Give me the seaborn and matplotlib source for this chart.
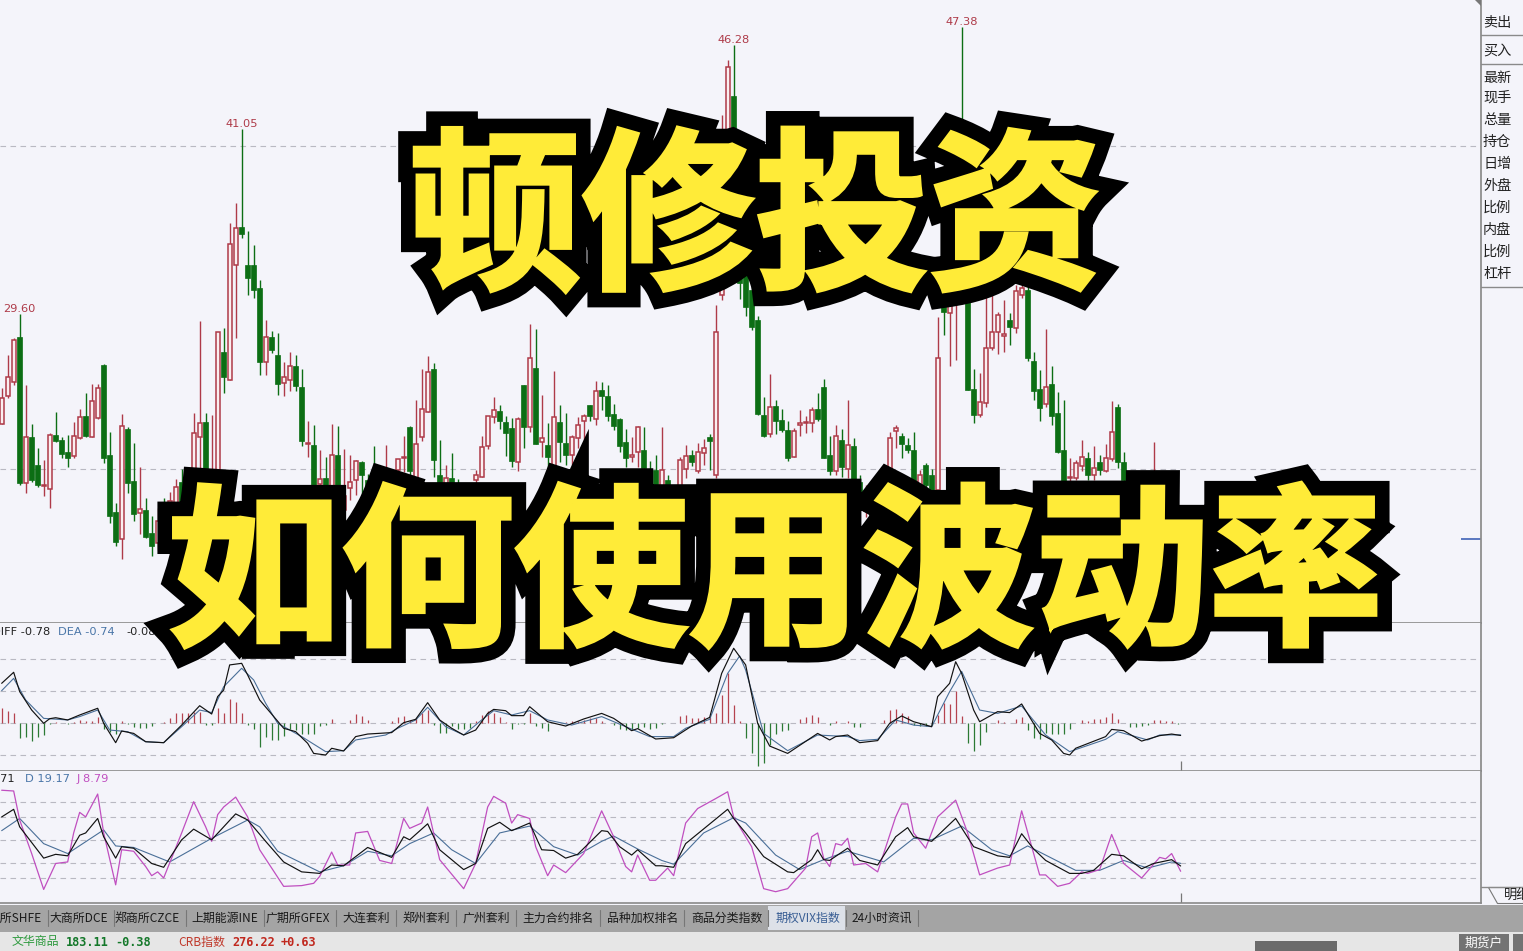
import matplotlib
matplotlib.use("Agg")
import matplotlib.pyplot as plt
import matplotlib.patheffects as pe
import numpy as np
import seaborn as sns
from matplotlib.patches import Rectangle, Polygon

highs = [25.0,27.05,28.1,29.6,25.2,22.8,21.3,20.55,22.2,23.55,
    22.0,22.1,22.9,23.7,24.7,25.25,25.25,26.5,22.3,17.9,
    23.4,22.6,21.6,20.15,18.2,17.1,17.6,18.2,18.6,19.4,
    20.0,20.1,23.45,29.15,23.45,23.35,28.5,28.7,35.2,36.45,
    41.05,34.75,33.85,31.7,29.2,28.55,28.4,26.65,27.25,27.05,
    26.2,23.0,22.7,21.2,20.75,22.8,22.65,21.25,20.85,20.55,
    20.5,19.7,21.4,18.0,21.5,20.0,20.6,22.05,22.65,24.3,
    26.2,27.0,26.55,21.8,20.25,21.0,19.4,18.6,19.0,19.95,
    22.05,23.3,24.45,23.95,23.25,23.15,23.2,25.2,29.0,28.65,
    24.6,22.85,26.05,23.95,23.45,22.1,23.2,23.4,23.95,25.45,
    25.4,25.2,24.05,23.15,22.45,22.0,22.65,22.6,20.5,20.85,
    22.6,19.65,19.0,20.75,21.5,21.15,21.6,21.85,22.15,30.15,
    41.9,45.3,46.28,38.0,33.5,31.4,29.5,24.45,25.85,24.3,
    23.7,23.0,22.55,23.65,23.3,23.85,24.7,25.55,22.05,22.75,
    22.5,24.3,21.9,19.6,19.0,18.6,18.2,19.4,22.3,22.7,
    22.2,21.9,22.3,19.95,20.35,20.0,29.4,33.6,37.9,41.0,
    47.38,36.65,26.2,25.95,31.7,30.8,29.75,30.45,29.65,31.4,
    31.7,31.4,27.25,26.15,28.65,26.4,24.75,24.3,20.65,20.55,
    21.8,21.05,21.4,20.85,21.55,24.2,24.05,21.05,19.4,18.6,
    18.4,19.0,21.65,19.0,18.0,17.0,16.4]
lows = [22.8,24.4,25.2,19.0,18.5,19.2,18.9,18.35,17.6,21.65,
    20.65,20.15,20.65,21.85,22.0,21.95,23.1,20.35,16.65,15.2,
    14.4,18.5,16.8,16.0,15.7,14.6,15.0,15.2,15.8,17.2,
    17.4,17.6,18.7,19.3,18.7,18.7,19.65,24.7,25.5,28.1,
    34.3,30.75,30.6,25.8,25.8,27.2,24.6,24.5,24.8,24.85,
    21.45,20.75,18.1,18.4,18.25,18.5,17.3,16.85,18.1,18.4,
    18.1,17.0,16.6,16.0,16.8,17.2,19.3,19.8,19.45,19.3,
    21.7,23.5,19.5,18.1,18.1,17.8,17.2,16.6,17.2,19.0,
    19.5,21.25,22.85,22.45,20.8,20.15,19.85,21.3,22.3,21.55,
    20.75,19.95,19.5,20.45,20.25,20.25,21.3,21.7,22.95,22.7,
    23.65,23.0,22.4,21.05,20.15,20.45,20.15,19.75,18.7,18.4,
    18.4,18.4,17.4,18.4,19.45,20.2,19.75,20.25,19.95,19.45,
    30.45,33.0,31.7,30.5,29.5,28.6,23.35,21.95,22.0,22.15,
    22.3,20.5,20.75,22.05,22.25,22.3,23.0,20.65,19.65,19.6,
    19.5,19.45,18.7,17.6,17.0,16.6,16.4,17.2,19.3,21.3,
    20.7,21.0,18.7,18.4,18.7,17.8,18.4,28.3,26.35,26.75,
    31.1,24.9,22.85,23.2,23.85,27.35,27.1,27.25,27.7,28.4,
    30.6,26.7,24.25,22.95,23.85,22.7,21.0,18.7,18.7,19.3,
    19.85,19.3,19.3,19.65,19.8,20.5,20.05,19.0,17.6,16.8,
    16.8,17.4,18.1,17.2,16.2,15.4,15.2]
opens = [22.8,24.5,25.4,28.2,19.15,22.0,20.25,18.95,18.75,22.1,
    21.8,21.05,20.8,21.9,23.3,22.0,23.15,26.45,20.85,17.35,
    15.65,22.5,19.25,17.3,17.45,16.05,15.4,17.4,16.2,17.6,
    19.2,18.1,19.75,22.0,22.9,19.65,19.65,27.25,25.5,32.6,
    35.0,32.65,32.65,31.2,26.65,28.2,27.05,25.3,25.5,26.35,
    25.1,21.55,21.5,19.05,19.45,18.65,20.85,17.45,18.85,19.3,
    20.45,19.3,18.4,16.4,17.2,18.9,19.95,20.65,22.6,19.3,
    22.0,23.55,26.2,19.65,18.4,19.45,19.0,17.0,17.6,19.3,
    19.5,21.45,23.2,23.6,22.9,22.55,20.4,25.2,22.6,26.25,
    21.65,21.5,19.95,22.9,21.6,20.85,21.9,23.0,23.95,23.1,
    24.9,24.5,23.4,23.1,21.65,20.75,21.05,21.2,19.95,19.95,
    18.7,19.3,17.8,18.7,20.0,20.85,19.9,21.0,21.95,19.65,
    30.75,34.2,43.1,36.5,33.0,31.1,29.25,23.35,22.15,23.9,
    23.05,22.4,20.75,22.75,22.85,22.85,23.7,25.05,20.85,19.85,
    21.8,20.0,21.4,19.2,17.4,18.2,17.8,17.6,19.95,22.35,
    22.05,21.5,21.15,18.7,20.25,19.6,18.7,32.3,29.65,30.45,
    41.3,34.8,24.95,23.35,24.1,27.5,28.45,28.25,29.25,28.7,
    30.8,31.1,26.7,24.95,24.0,25.25,23.45,21.2,19.45,19.45,
    20.2,20.65,19.65,20.4,19.9,20.6,23.85,20.4,19.0,18.2,
    17.2,17.8,18.4,18.6,17.6,16.6,16.0]
closes = [24.4,25.7,28.0,19.1,22.0,19.3,19.0,19.0,22.1,21.75,
    20.95,20.65,22.05,23.2,22.05,24.2,25.0,20.65,17.1,15.5,
    22.65,19.15,17.2,17.5,15.8,15.25,16.8,15.9,18.0,18.9,
    17.8,19.6,22.2,22.85,19.95,19.7,28.45,25.7,33.95,34.9,
    34.55,31.85,31.1,26.65,28.2,27.35,25.25,25.7,26.4,25.15,
    21.75,21.6,18.9,19.4,18.75,20.85,17.4,18.3,19.2,20.5,
    19.65,17.6,17.2,17.4,18.6,17.8,20.6,20.75,19.9,21.55,
    23.7,26.0,20.55,18.7,19.45,18.7,17.6,18.0,18.5,19.65,
    21.35,23.25,23.65,22.95,22.25,20.5,23.1,22.6,26.85,21.55,
    21.9,20.75,23.2,21.65,20.85,21.95,22.7,23.3,23.25,24.85,
    24.5,23.3,22.65,21.4,20.65,20.85,22.6,20.05,19.0,18.8,
    19.95,19.0,18.6,20.55,20.8,20.45,21.05,21.3,21.75,28.45,
    41.0,44.9,34.2,31.5,30.0,28.8,23.4,22.05,23.85,22.95,
    22.4,20.7,22.35,22.85,22.9,23.65,23.1,20.7,19.9,22.05,
    20.15,21.5,19.3,18.0,18.4,17.0,16.8,18.8,21.9,22.55,
    21.55,21.15,19.0,19.6,19.0,18.2,26.9,29.7,35.4,38.5,
    32.3,24.9,23.35,24.15,27.5,28.45,29.55,28.35,28.8,31.05,
    31.2,26.9,24.85,23.8,25.05,23.3,21.05,19.0,19.5,20.35,
    20.75,19.6,20.05,19.95,20.65,22.3,20.4,19.3,18.0,17.2,
    17.9,18.6,19.3,17.6,16.6,15.9,15.66]

macd_hist = [.92,.75,.6,-.96,-.9,-1.15,-.9,-.75,-.05,.05,
    .03,-.05,.05,.2,.1,.1,.35,-.4,-.55,-.7,
    .12,-.05,-.25,-.3,-.3,-.2,-.02,.05,.3,.6,
    .6,.6,.7,.7,-.1,-.15,.95,.6,1.5,1.3,
    .65,-.1,-.4,-1.5,-.9,-1.05,-1.05,-.8,-.4,-.45,
    -.7,-.7,-.7,-.2,-.15,.25,.02,.03,.2,.55,
    .45,.2,.03,.03,.03,.1,.4,.45,.2,.3,
    .6,.8,-.1,-.6,-.65,-.2,-.4,-.4,-.3,.15,
    .5,.75,.6,.35,.05,-.35,-.05,-.05,.6,-.2,
    -.3,-.5,.03,-.03,.05,.1,.15,.2,.3,.3,
    .15,.03,-.15,-.35,-.45,-.35,-.3,-.25,-.35,-.3,
    -.05,.02,.02,.45,.5,.3,.3,.35,.4,.6,
    1.75,3.1,1.15,.1,-.95,-1.9,-2.7,-2.5,-1.4,-.7,
    -.5,-.45,.02,.25,.4,.5,.4,.03,-.1,.1,
    .02,.1,-.25,-.25,.02,.03,.03,.2,.8,.85,
    .6,.45,-.15,-.2,-.2,-.1,.5,1.25,1.2,2.0,
    .45,-1.25,-1.75,-1.4,-.55,.02,.2,.05,.02,.25,
    .4,-.45,-.95,-1.0,-.6,-.7,-.7,-.7,-.4,.02,
    .2,.15,.25,.25,.4,.6,.25,.02,-.25,-.25,
    -.2,-.15,.2,.18,.15,.1,-.08]

dif_x = [0,2,3,5,7,8,9,11,13,16,17,19,20,22,24,27,30,33,35,36,37,38,40,41,43,47,49,51,52,54,55,57,59,61,65,67,69,71,73,75,77,79,81,82,84,85,87,88,91,94,97,100,
    102,105,106,109,112,115,118,120,122,124,126,128,131,136,138,139,141,143,146,148,150,152,155,156,158,159,160,162,163,166,168,170,173,175,177,178,179,184,185,187,190,193,195,196.5]
dif_y = [2.48,3.17,1.96,.81,-.02,.27,.33,.19,.5,.92,-.02,-1.23,-.5,-.65,-1.17,-1.23,-.13,1.08,.56,1.65,2.06,3.63,3.73,3.0,1.44,-.33,-.54,-1.27,-1.9,-2.0,-1.58,-1.75,-.85,-.69,-.6,.02,.23,1.27,.19,-.33,-.75,-.44,.6,.85,.77,.46,.46,1.02,.08,-.19,.25,.6,
    .29,-.48,-.35,-1.0,-.92,-.19,.35,3.1,4.67,3.63,-.02,-1.44,-1.9,-.65,-1.06,-.85,-.75,-1.23,-1.1,-.02,.44,.08,-.23,1.65,2.48,3.83,3.1,.81,.08,.71,.65,1.19,-.65,-1.06,-1.9,-2.0,-1.58,-.85,-.4,-.48,-1.13,-.79,-.69,-.78]
dea_x = [0,2,4,7,11,13,16,18,21,24,27,30,33,35,37,40,42,44,46,50,54,57,59,64,66,69,71,74,77,80,82,85,88,91,95,100,
    104,108,112,114,118,121,123,124,127,131,136,141,143,146,149,152,155,158,160,163,166,170,174,178,184,186,191,193,196.5]
dea_y = [2.02,2.79,1.44,.29,.19,.4,.81,-.44,-.54,-1.17,-1.23,-.23,.81,.65,2.27,3.42,2.69,1.23,-.02,-.85,-1.79,-1.73,-1.06,-.75,-.33,.19,.98,-.23,-.75,.19,.77,.5,.77,.19,-.13,.4,
    -.23,-.85,-.85,-.33,.23,3.1,4.19,3.31,-.65,-1.73,-.75,-.85,-1.1,-1.02,.19,-.13,-.23,1.96,3.23,.81,.6,1.06,-.75,-1.79,-1.02,-.54,-1.06,-.75,-.74]

j_x = [0,2,3,5,7,9,11,12,13,14,16,17,19,20,22,24,25,26,27,30,32,34,35,36,37,39,41,43,47,50,52,53,55,56,58,59,61,63,65,67,68,70,71,73,77,79,81,82,84,85,86,88,89,91,92,94,97,100,
    102,104,105,106,108,109,111,112,114,116,119,121,122,125,127,129,131,134,135,136,137,138,139,140,141,142,144,146,149,150,151,152,154,156,159,161,163,166,168,170,173,174,176,178,180,181,183,185,187,190,193,194,195,196.5]
j_y = [115,114,76,32,-15,19,21,59,86,80,110,59,-9,37,35,15,3,8,0,59,100,67,48,83,93,106,80,37,-11,-10,-7,2,34,17,17,59,61,23,19,78,65,72,93,24,-14,19,93,107,98,72,83,78,41,3,17,7,32,88,
    54,15,8,30,-3,-3,13,3,72,91,104,113,80,41,-14,-18,-14,13,54,59,26,15,45,43,52,17,19,8,80,97,97,59,39,80,102,59,4,13,17,88,4,4,-11,-7,8,6,11,57,19,0,27,25,32,8.79]
k_x = [0,2,3,7,9,11,13,14,16,17,19,20,22,25,27,30,32,35,37,39,41,44,47,50,53,55,57,61,65,67,68,71,73,77,79,81,83,85,88,90,92,94,96,100,
    101,103,105,106,109,110,112,114,121,122,124,127,131,132,135,136,137,138,141,143,146,149,151,152,155,159,162,166,168,170,172,174,178,180,182,185,187,190,192,195,196.5]
k_y = [80,90,67,26,31,29,56,59,78,54,26,41,39,19,14,50,64,50,67,84,76,48,21,8,6,17,16,40,27,54,50,71,37,11,19,65,73,62,72,37,36,26,31,62,
    61,41,30,37,16,16,14,45,90,78,59,28,8,7,24,37,24,23,39,23,17,54,66,54,48,78,41,29,27,58,38,23,6,6,10,31,29,12,19,24,15.71]
d_x = [0,3,7,11,17,19,22,28,35,41,43,46,53,57,61,65,68,72,75,79,83,88,92,96,100,
    102,106,110,112,117,122,124,129,133,137,141,147,152,155,160,165,168,171,179,183,187,191,195,196.5]
d_y = [62,78,45,32,63,42,40,21,52,76,67,35,8,16,35,29,45,59,37,19,59,68,41,30,48,
    55,38,23,18,59,79,72,30,11,24,35,21,52,50,68,37,29,42,10,10,23,13,21,19.17]

price_grid = [40, 20]
macd_grid = [4, 2, 0, -2]
kdj_grid = [100, 80, 50, 20, 0]
peak_bars = [3, 40, 122, 160]

side_labels = ["卖出","买入","最新","现手","总量","持仓","日增","外盘","比例","内盘","比例","杠杆"]
side_rows = [23,52,78,98,120,142,164,186,208,230,252,274]
tab_labels = ["上期所SHFE","大商所DCE","郑商所CZCE","上期能源INE","广期所GFEX","大连套利","郑州套利","广州套利","主力合约排名","品种加权排名","商品分类指数","期权VIX指数","24小时资讯"]
tab_ends = [42,108,180,258,330,390,450,510,594,678,762,840,912]

W, H = 1523, 951
BG = "#f4f4fa"
RED = "#ae3a48"
GREEN = "#0c6e14"
GRID = "#b9b9c2"
CJK = ["Noto Sans CJK SC", "DejaVu Sans"]

sns.set_theme(style="white")
plt.rcParams["font.family"] = CJK
plt.rcParams["axes.unicode_minus"] = False

fig = plt.figure(figsize=(W / 100, H / 100), dpi=100, facecolor=BG)


def panel(top, bottom, ylim):
    ax = fig.add_axes([0, 1 - bottom / H, 1481 / W, (bottom - top) / H], facecolor=BG)
    ax.set_xlim(-0.278, 246.56)
    ax.set_ylim(*ylim)
    ax.set_xticks([])
    ax.set_yticks([])
    sns.despine(ax=ax, left=True, right=False, top=True, bottom=False)
    ax.spines["bottom"].set_color("#8a8a8a")
    ax.spines["bottom"].set_linewidth(1.2)
    ax.spines["right"].set_color("#8a8a8a")
    return ax


def px(x, y):
    return x / W, 1 - y / H


def label(x, y, s, **kw):
    kw.setdefault("va", "center")
    return fig.text(*px(x, y), s, **kw)


ax_price = panel(0, 623, (10.46, 49.04))
ax_macd = panel(623, 771, (-3.0, 6.25))
ax_kdj = panel(771, 903, (-32.8, 140.2))

# candles
bars = np.arange(len(closes))
opens_a, closes_a = np.array(opens), np.array(closes)
up = closes_a >= opens_a
colors = np.where(up, RED, GREEN)
ax_price.vlines(bars, lows, highs, colors=colors, lw=1.0, zorder=2)
ax_price.bar(bars[~up], (opens_a - closes_a)[~up], bottom=closes_a[~up], width=0.75,
             color=GREEN, edgecolor=GREEN, lw=0.5, zorder=3)
ax_price.bar(bars[up], np.maximum((closes_a - opens_a)[up], 0.06), bottom=opens_a[up], width=0.66,
             color="#fbeef0", edgecolor=RED, lw=1.1, zorder=3)
for g in price_grid:
    ax_price.axhline(g, color=GRID, lw=0.8, ls=(0, (5, 4)), zorder=1)
for b in peak_bars:
    ax_price.annotate(f"{highs[b]:.2f}", (max(b, 2.4), highs[b]), xytext=(0, 0), textcoords="offset points",
                      ha="center", va="bottom", color=RED, fontsize=8.2, family="DejaVu Sans")
ax_price.hlines(closes[-1], 243.2, 246.56, color="#2f55b0", lw=1.1)

# MACD
for g in macd_grid:
    ax_macd.axhline(g, color=GRID, lw=0.8, ls=(0, (5, 4)), zorder=1)
hist = np.array(macd_hist)
ax_macd.vlines(bars, 0, hist, colors=np.where(hist >= 0, "#b5434f", "#2c7a34"), lw=0.9, zorder=2)
sns.lineplot(x=dea_x, y=dea_y, ax=ax_macd, color="#4a6f98", lw=0.8, sort=False, errorbar=None, zorder=3)
sns.lineplot(x=dif_x, y=dif_y, ax=ax_macd, color="#111111", lw=0.85, sort=False, errorbar=None, zorder=4)
ax_macd.vlines(196.5, -3.0, -2.4, color="#777777", lw=0.9)

# KDJ
for g in kdj_grid:
    ax_kdj.axhline(g, color=GRID, lw=0.8, ls=(0, (5, 4)), zorder=1)
sns.lineplot(x=d_x, y=d_y, ax=ax_kdj, color="#4a6f98", lw=0.8, sort=False, errorbar=None, zorder=3)
sns.lineplot(x=j_x, y=j_y, ax=ax_kdj, color="#c04fc0", lw=0.9, sort=False, errorbar=None, zorder=3)
sns.lineplot(x=k_x, y=k_y, ax=ax_kdj, color="#111111", lw=0.85, sort=False, errorbar=None, zorder=4)
ax_kdj.vlines(196.5, -32.8, -20, color="#777777", lw=0.9)

# indicator headers
num_font = "DejaVu Sans"
label(50, 632, "DIFF -0.78", ha="right", color="#222222", fontsize=8.2, family=num_font)
label(58, 632, "DEA -0.74", color="#4a76a8", fontsize=8.2, family=num_font)
label(126, 632, "-0.08", color="#222222", fontsize=8.2, family=num_font)
label(15, 779, "K 15.71", ha="right", color="#222222", fontsize=8.2, family=num_font)
label(25, 779, "D 19.17", color="#4a76a8", fontsize=8.2, family=num_font)
label(77, 779, "J 8.79", color="#c04fc0", fontsize=8.2, family=num_font)

# right side column
for y in [35, 64, 287]:
    fig.add_artist(plt.Line2D([1481 / W, 1], [1 - y / H] * 2, color="#8a8a8a", lw=1.0))
for s, y in zip(side_labels, side_rows):
    label(1483, y, s, color="#222222", fontsize=10.2)
fig.add_artist(Polygon([px(1488, 887), px(1523, 887), px(1523, 903), px(1497, 903)], closed=True, facecolor="#f4f4fa",
                       edgecolor="#777777", lw=0.8, transform=fig.transFigure))
fig.add_artist(plt.Line2D([1481 / W, 1], [1 - 887 / H] * 2, color="#8a8a8a", lw=1.0))
label(1504, 895, "明细", color="#222222", fontsize=9.5)
fig.add_artist(Polygon([px(1475, 0), px(1481, 0), px(1481, 6)], closed=True, facecolor="#777777", lw=0, transform=fig.transFigure))

# bottom bars
fig.add_artist(Rectangle(px(0, 951), 1, 46 / H, transform=fig.transFigure, facecolor="#e6e6e6", lw=0))
fig.add_artist(Rectangle(px(0, 932), 1, 27 / H, transform=fig.transFigure, facecolor="#a4a4a4", lw=0))
fig.add_artist(Rectangle(px(768, 930), 77 / W, 24 / H, transform=fig.transFigure, facecolor="#dde1e8", lw=0))
for s, end in zip(tab_labels, tab_ends):
    col = "#3a5f95" if "VIX" in s else "#1a1a1a"
    label(end, 918, s, ha="right", color=col, fontsize=8.6)
    fig.add_artist(plt.Line2D([(end + 6) / W] * 2, [1 - 910 / H, 1 - 926 / H], color="#777777", lw=0.8))

label(12, 942, "文华商品", color="#2e9a3e", fontsize=8.6)
label(66, 942, "183.11", color="#14782a", fontsize=8.6, family="DejaVu Sans Mono", weight="bold")
label(115, 942, "-0.38", color="#14782a", fontsize=8.6, family="DejaVu Sans Mono", weight="bold")
label(178, 942, "CRB指数", color="#c0392b", fontsize=8.6)
label(232, 942, "276.22", color="#c0281e", fontsize=8.6, family="DejaVu Sans Mono", weight="bold")
label(281, 942, "+0.63", color="#c0281e", fontsize=8.6, family="DejaVu Sans Mono", weight="bold")
fig.add_artist(Rectangle(px(1255, 951), 82 / W, 10 / H, transform=fig.transFigure, facecolor="#6b6b6b", lw=0))
fig.add_artist(Rectangle(px(1459, 951), 50 / W, 17 / H, transform=fig.transFigure, facecolor="#737373", lw=0))
fig.add_artist(Rectangle(px(1513, 951), 10 / W, 17 / H, transform=fig.transFigure, facecolor="#737373", lw=0))
label(1484, 943, "期货户", ha="center", color="white", fontsize=9.2)

# big title over everything
YELLOW = "#ffeb38"
stroke = [
    pe.withStroke(linewidth=24, foreground="black", joinstyle="miter", capstyle="butt"),
    pe.withStroke(linewidth=3, foreground=YELLOW, joinstyle="miter"),
]
for s, x, y in [("顿修投资", 755, 224), ("如何使用波动率", 775, 580)]:
    t = label(x, y, s, ha="center", color=YELLOW, fontsize=125, weight="black", zorder=20)
    t.set_path_effects(stroke)

fig.savefig("out.png", dpi=100, facecolor=BG)
